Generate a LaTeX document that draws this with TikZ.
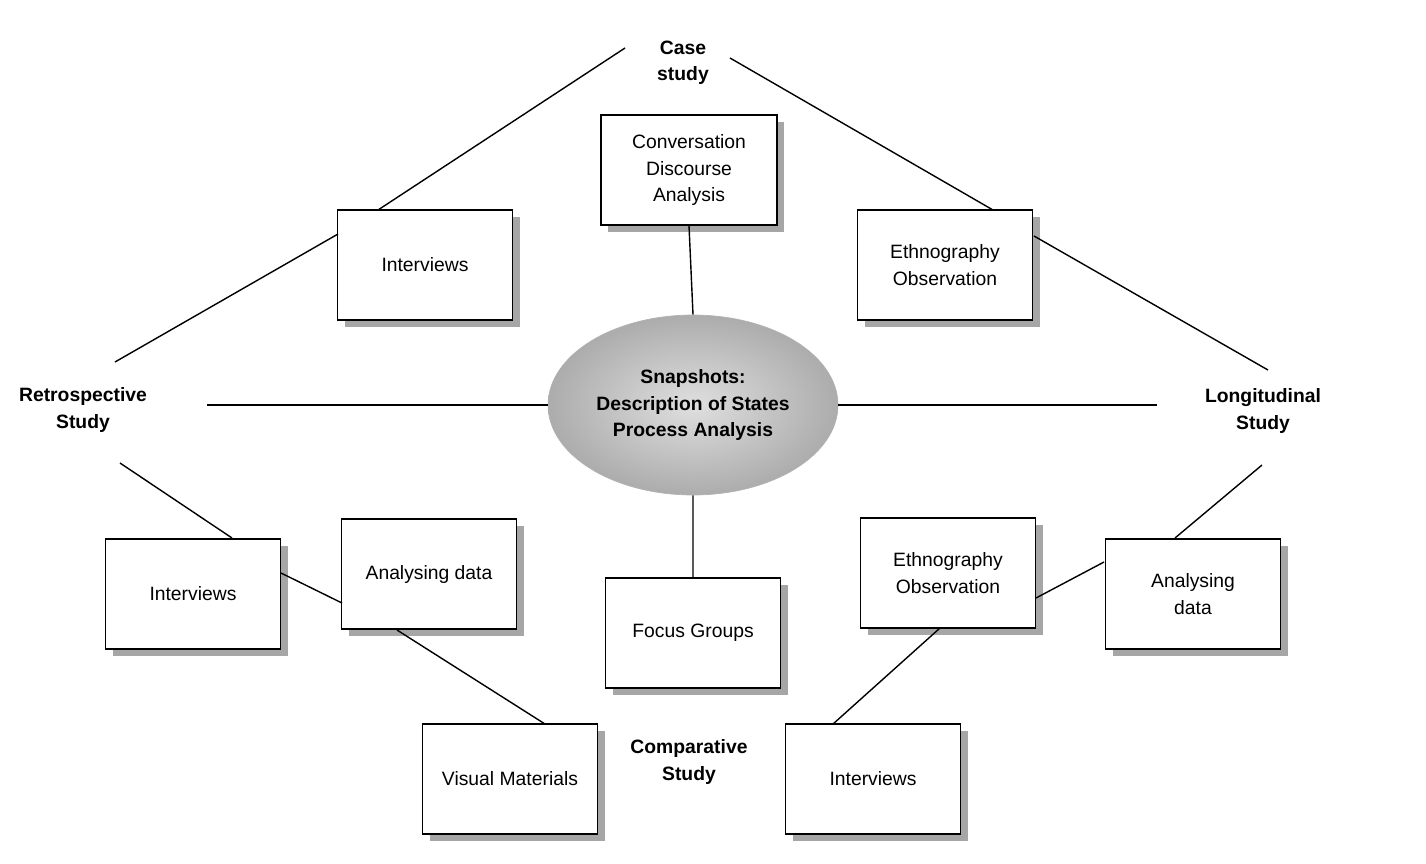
\documentclass[tikz,border=0pt]{standalone}
\usepackage{fontspec}
\setmainfont{Liberation Sans}
\usetikzlibrary{shadows,calc,shapes.geometric}
\begin{document}
\begin{tikzpicture}[x=0.02cm,y=-0.02cm,
 box/.style={draw,thick,fill=white,minimum width=3.5cm,minimum height=2.2cm,align=center,font=\fontsize{11}{15}\selectfont,
   drop shadow={shadow xshift=4pt,shadow yshift=-4pt,fill=gray!70,opacity=1}},
 lbl/.style={align=center,font=\fontsize{11}{15}\selectfont\bfseries},
 ln/.style={line width=0.8pt}]
\useasboundingbox (0,0) rectangle (1426,863);
\node[box,minimum width=3.52cm] (conv) at (689,170) {Conversation\\Discourse\\Analysis};
\node[box] (int1) at (425,265) {Interviews};
\node[box] (eth1) at (945,265) {Ethnography\\Observation};
\node[box] (int2) at (193,594) {Interviews};
\node[box] (ana1) at (429,574) {Analysing data};
\node[box] (foc) at (693,633) {Focus Groups};
\node[box] (eth2) at (948,573) {Ethnography\\Observation};
\node[box] (ana2) at (1193,594) {Analysing\\data};
\node[box] (vis) at (510,779) {Visual Materials};
\node[box] (int3) at (873,779) {Interviews};
\node[ellipse,draw=gray!60,inner color=gray!25,outer color=gray!65,minimum width=5.3cm,minimum height=3.6cm,align=center,font=\fontsize{11}{15}\selectfont\bfseries] (snap) at (693,405) {Snapshots:\\Description of States\\Process Analysis};
\node[lbl] (case) at (683,63) {Case\\study};
\node[lbl] (retro) at (83,410) {Retrospective\\Study};
\node[lbl] (longi) at (1263,411) {Longitudinal\\Study};
\node[lbl] (comp) at (689,762) {Comparative\\Study};
\coordinate (c1) at (625,48); \coordinate (c2) at (730,58);
\coordinate (r1) at (115,362); \coordinate (r2) at (207,405); \coordinate (r3) at (120,463);
\coordinate (l1) at (1268,370); \coordinate (l2) at (1157,405); \coordinate (l3) at (1262,465);
\draw[ln] (c1) -- (378,210) (c2) -- (993,210);
\draw[ln] (338,234) -- (r1) (1034,236) -- (l1);
\draw[ln] (r2) -- (snap.west) (snap.east) -- (l2);
\draw[ln] (conv.south) -- (snap.north) (snap.south) -- (foc.north);
\draw[ln] (r3) -- (232,538);
\draw[ln] (281,573) -- (342,603);
\draw[ln] (397,630) -- (545,724);
\draw[ln] (l3) -- (1175,538);
\draw[ln] (1036,598) -- (1104,562);
\draw[ln] (940,628) -- (833,724);
\end{tikzpicture}
\end{document}
